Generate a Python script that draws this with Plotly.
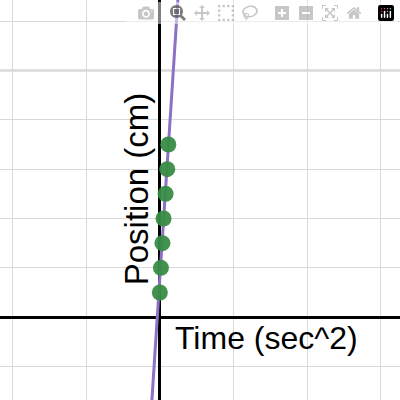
import numpy as np
import plotly.graph_objects as go

# data
time_sq = [0.0, 0.015, 0.035, 0.05, 0.078, 0.1, 0.115]
position = [0.5, 1.0, 1.5, 2.0, 2.5, 3.0, 3.5]
fit_slope = 23.0
fit_intercept = 0.8

X_RANGE = [-2.17, 3.26]
Y_RANGE = [-1.68, 6.43]

fit_x = np.array([-0.3, 0.4])
fit_y = fit_slope * fit_x + fit_intercept

fig = go.Figure()
fig.add_trace(go.Scatter(x=fit_x, y=fit_y, mode="lines",
                         line=dict(color="#8c72c4", width=3)))
fig.add_trace(go.Scatter(x=time_sq, y=position, mode="markers",
                         marker=dict(color="#388c46", size=16, opacity=0.95)))

# darker major grid line
fig.add_shape(type="line", xref="paper", x0=0, x1=1, y0=5, y1=5,
              line=dict(color="#8f8f8f", width=1.5), layer="below")

fig.add_annotation(x=0, y=2.6, text="Position (cm)", textangle=-90, showarrow=False,
                   xanchor="right", xshift=-2, font=dict(size=33, color="black"))
fig.add_annotation(x=0.2, y=0, text="Time (sec^2)", showarrow=False,
                   xanchor="left", yanchor="top", xshift=-2, yshift=-1,
                   font=dict(size=32, color="black"))

axis_style = dict(showgrid=True, gridcolor="#d9d9d9", gridwidth=1.2, dtick=1,
                  zeroline=True, zerolinecolor="black", zerolinewidth=2.5,
                  showticklabels=False, showline=False, ticks="")
fig.update_layout(
    width=400, height=400,
    margin=dict(l=0, r=0, t=0, b=0),
    showlegend=False,
    plot_bgcolor="white", paper_bgcolor="white",
    font=dict(family="Liberation Sans, Arial"),
    xaxis=dict(range=X_RANGE, **axis_style),
    yaxis=dict(range=Y_RANGE, **axis_style),
)

fig.write_html("out.html", post_script="document.body.style.margin='0';")
